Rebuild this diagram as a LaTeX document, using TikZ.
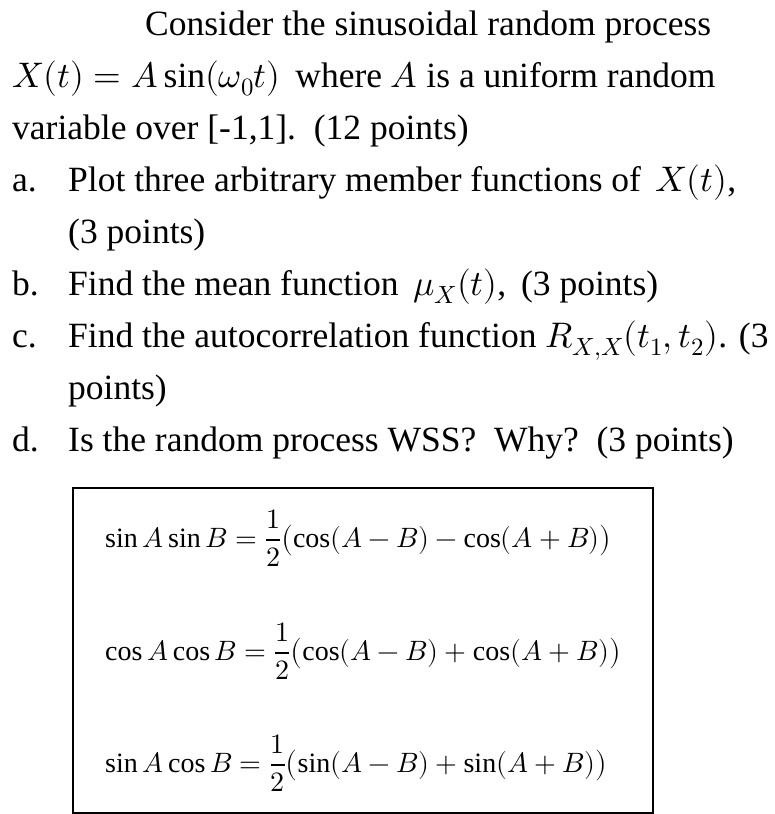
\documentclass[tikz,border=0pt]{standalone}
\usepackage{amsmath}
\usepackage{fontspec}
\usepackage{unicode-math}
\setmainfont{Liberation Serif}
\setmathfont{Latin Modern Math}
\begin{document}
\begin{tikzpicture}[x=1pt,y=-1pt,
  ln/.style={anchor=base west,inner sep=0pt,font=\fontsize{35.5}{40}\selectfont},
  fm/.style={anchor=base west,inner sep=0pt,font=\fontsize{28}{32}\selectfont}]
\useasboundingbox[fill=white] (0,0) rectangle (775,814);
\node[ln] (l1) at (145,35) {Consider the sinusoidal random process};
\node[ln] (l2) at (12,87) {$X(t)=A\sin(\omega_0 t)$\, where $A$ is a uniform random};
\node[ln] (l3) at (12,139) {variable over [-1,1].\ \ (12 points)};
\node[ln] (a1) at (12,191) {a.};
\node[ln] (a2) at (68,191) {Plot three arbitrary member functions of\, $X(t)$,};
\node[ln] (a3) at (68,243) {(3 points)};
\node[ln] (b1) at (12,295) {b.};
\node[ln] (b2) at (68,295) {Find the mean function\, $\mu_X(t)$,\, (3 points)};
\node[ln] (c1) at (12,347) {c.};
\node[ln] (c2) at (68,347) {Find the autocorrelation function $R_{X,X}(t_1,t_2)$. (3};
\node[ln] (c3) at (68,399) {points)};
\node[ln] (d1) at (12,451) {d.};
\node[ln] (d2) at (68,451) {Is the random process WSS?\ \ Why?\ \ (3 points)};
\node[draw,line width=1.6pt,minimum width=580,minimum height=325,anchor=north west,inner sep=0pt] (box) at (72,487) {};
\node[fm] (f1) at (105,547) {$\sin A\sin B=\dfrac{1}{2}\bigl(\cos(A-B)-\cos(A+B)\bigr)$};
\node[fm] (f2) at (105,660) {$\cos A\cos B=\dfrac{1}{2}\bigl(\cos(A-B)+\cos(A+B)\bigr)$};
\node[fm] (f3) at (105,772) {$\sin A\cos B=\dfrac{1}{2}\bigl(\sin(A-B)+\sin(A+B)\bigr)$};
\end{tikzpicture}
\end{document}
